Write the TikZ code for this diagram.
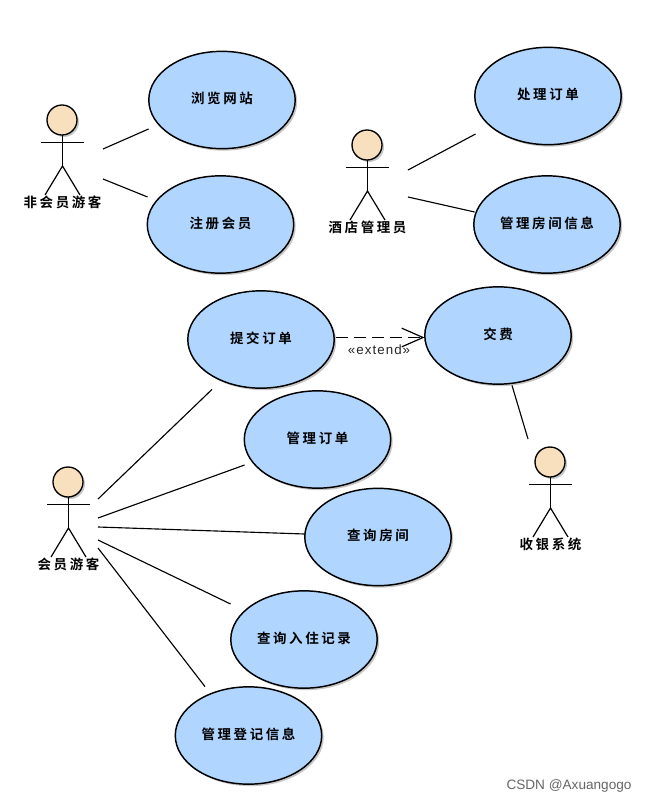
\documentclass[tikz,border=0pt]{standalone}
\usepackage{fontspec}
\setmainfont{Liberation Sans}
\newfontfamily\cjkb[LetterSpace=19]{Noto Sans CJK SC Bold}
\usetikzlibrary{shapes.geometric,shadows,arrows.meta}
\definecolor{ucfill}{HTML}{B0D5FF}
\definecolor{headfill}{HTML}{F8E0BF}
\tikzset{
  x=0.75pt,y=-0.75pt,
  softshadow/.style={drop shadow={shadow xshift=1.5pt,shadow yshift=-1.5pt,opacity=0.22,fill=black}},
  usecase/.style={ellipse,draw=black,line width=1.1pt,fill=ucfill,minimum width=109.8pt,minimum height=73pt,inner sep=0pt,font=\cjkb\fontsize{10.1pt}{12pt}\selectfont,softshadow},
  head/.style={circle,draw=black,line width=1pt,fill=headfill,minimum size=22.5pt,inner sep=0pt,softshadow},
  limb/.style={draw=black,line width=0.9pt},
  actorlabel/.style={font=\cjkb\fontsize{10.1pt}{12pt}\selectfont,inner sep=0pt},
  conn/.style={draw=black,line width=0.85pt},
  ext/.style={draw=black,line width=0.9pt,dash pattern=on 8.5pt off 5pt,-{Straight Barb[length=16pt,width=14pt,line width=0.9pt]}},
  extlabel/.style={font=\fontsize{10pt}{11pt}\selectfont\addfontfeatures{LetterSpace=8},inner sep=0pt,text=black!85}
}
\newcommand{\uct}[1]{\raisebox{1.1pt}[\height][\depth]{#1}\hspace{2pt}}
\newcommand{\drawactor}[4]{% name, head x, head y, label
  \node[head] (#1) at (#2,#3) {};
  \coordinate (#1n) at (#2+0.5,#3+15);
  \coordinate (#1c) at (#2+0.5,#3+46);
  \coordinate (#1al) at (#2-21,#3+22.5);
  \coordinate (#1ar) at (#2+22,#3+22.5);
  \coordinate (#1ll) at (#2-17,#3+75);
  \coordinate (#1lr) at (#2+18,#3+75);
  \draw[limb] (#1n) -- (#1c);
  \draw[limb] (#1al) -- (#1ar);
  \draw[limb] (#1ll) -- (#1c) -- (#1lr);
  \node[actorlabel] (#1t) at (#2+0.5,#3+82.8) {#4};
}
\begin{document}
\begin{tikzpicture}
\useasboundingbox[fill=white] (0,0) rectangle (647,803);
\node[usecase] (uc1) at (222,100) {\uct{浏览网站}};
\node[usecase] (uc2) at (220.5,224.5) {\uct{注册会员}};
\node[usecase] (uc3) at (548,96) {\uct{处理订单}};
\node[usecase] (uc4) at (547,224.5) {\uct{管理房间信息}};
\node[usecase] (uc5) at (261,339.5) {\uct{提交订单}};
\node[usecase] (uc6) at (498,335.5) {\uct{交费}};
\node[usecase] (uc7) at (317.5,439.5) {\uct{管理订单}};
\node[usecase] (uc8) at (378,537) {\uct{查询房间}};
\node[usecase] (uc9) at (304,639.5) {\uct{查询入住记录}};
\node[usecase] (uc10) at (248.5,735.5) {\uct{管理登记信息}};
\drawactor{a1}{62}{120}{非会员游客}
\drawactor{a2}{367}{145}{酒店管理员}
\drawactor{a3}{550}{462}{收银系统}
\drawactor{a4}{68}{482}{会员游客}
\coordinate (p1) at (103,149);
\coordinate (p2) at (103,179);
\coordinate (p3) at (408,170);
\coordinate (p4) at (408,197);
\coordinate (p5) at (528,439);
\coordinate (p6) at (98,499);
\coordinate (p7) at (98,518);
\coordinate (p8) at (98,527);
\coordinate (p9) at (98,540);
\coordinate (p10) at (98,548);
\draw[conn] (p1) -- ([shift={(0.5,29)}]uc1.west);
\draw[conn] (p2) -- ([shift={(1,-27.5)}]uc2.west);
\draw[conn] (p3) -- ([shift={(1.5,38)}]uc3.west);
\draw[conn] (p4) -- ([shift={(1.5,-12.5)}]uc4.west);
\draw[conn] (p5) -- ([shift={(14,0.5)}]uc6.south);
\draw[conn] (p6) -- ([shift={(-49,0.5)}]uc5.south);
\draw[conn] (p7) -- ([shift={(1,25.5)}]uc7.west);
\draw[conn] (p8) -- ([shift={(0.5,-3)}]uc8.west);
\draw[conn] (p9) -- ([shift={(0.5,-35.5)}]uc9.west);
\draw[conn] (p10) -- ([shift={(-43.5,0.5)}]uc10.north);
\draw[ext] ([shift={(1.5,-2)}]uc5.east) -- ([shift={(0.5,2)}]uc6.west);
\node[extlabel] (el) at (379,350) {«extend»};
\node[font=\fontsize{10.2pt}{11pt}\selectfont,text=black!60,inner sep=0pt] (wm) at (569,786) {CSDN @Axuangogo};
\end{tikzpicture}
\end{document}
